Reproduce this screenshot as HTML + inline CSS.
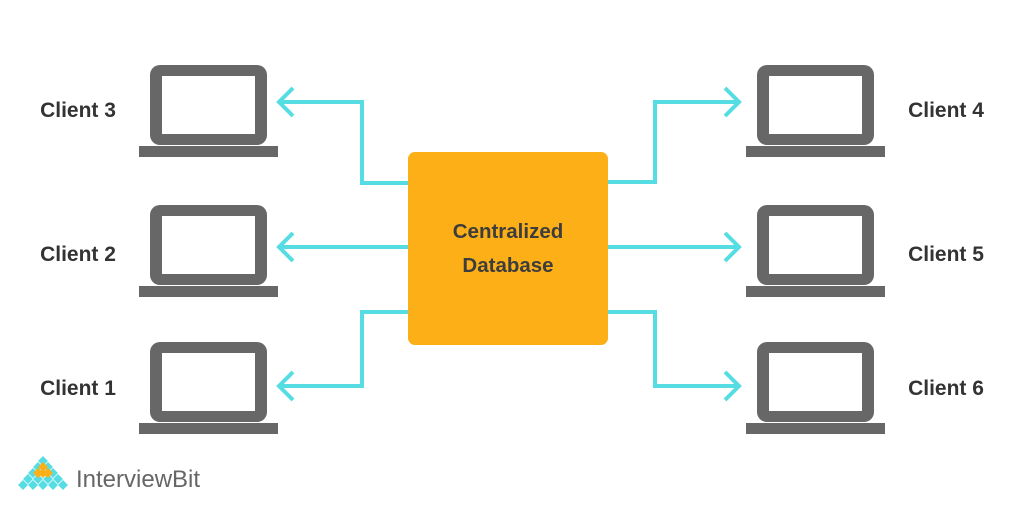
<!DOCTYPE html>
<html><head><style>
body{margin:0;width:1024px;height:500px;background:#fff;overflow:hidden;font-family:"Liberation Sans",sans-serif}
</style></head><body>
<svg width="1024" height="500" viewBox="0 0 1024 500" xmlns="http://www.w3.org/2000/svg">
<defs>
<g id="lap">
<rect x="11" y="0" width="117" height="80" rx="10" fill="#676767"/>
<rect x="23" y="11" width="93" height="58" fill="#fff"/>
<rect x="0" y="81" width="139" height="11" fill="#676767"/>
</g>
<rect id="d" x="-3.5" y="-3.5" width="7" height="7" transform="rotate(45)"/>
</defs>
<use href="#lap" x="139" y="65"/>
<use href="#lap" x="139" y="205"/>
<use href="#lap" x="139" y="342"/>
<use href="#lap" x="746" y="65"/>
<use href="#lap" x="746" y="205"/>
<use href="#lap" x="746" y="342"/>
<g fill="none" stroke="#56DDE4" stroke-width="4">
<polyline points="408,183 362,183 362,102 278,102"/>
<polyline points="293,88 279,102 293,116"/>
<polyline points="408,247 278,247"/>
<polyline points="293,233 279,247 293,261"/>
<polyline points="408,312 362,312 362,386 278,386"/>
<polyline points="293,372 279,386 293,400"/>
<polyline points="608,182 655,182 655,102 740,102"/>
<polyline points="725,88 739,102 725,116"/>
<polyline points="608,247 740,247"/>
<polyline points="725,233 739,247 725,261"/>
<polyline points="608,312 655,312 655,386 740,386"/>
<polyline points="725,372 739,386 725,400"/>
</g>
<rect x="408" y="152" width="200" height="193" rx="7" fill="#FDAF17"/>
<g font-family="Liberation Sans, sans-serif" font-weight="bold" fill="#333" font-size="21">
<text x="508" y="238" text-anchor="middle" fill="#3d3d3d" font-size="20.5">Centralized</text>
<text x="508" y="272" text-anchor="middle" fill="#3d3d3d" font-size="20.5">Database</text>
<text x="78" y="117" text-anchor="middle">Client 3</text>
<text x="78" y="261" text-anchor="middle">Client 2</text>
<text x="78" y="395" text-anchor="middle">Client 1</text>
<text x="946" y="117" text-anchor="middle">Client 4</text>
<text x="946" y="261" text-anchor="middle">Client 5</text>
<text x="946" y="395" text-anchor="middle">Client 6</text>
</g>
<g fill="#56DDE4">
<use href="#d" x="43" y="461"/>
<use href="#d" x="38" y="467"/><use href="#d" x="48" y="467"/>
<use href="#d" x="33" y="473"/><use href="#d" x="53" y="473"/>
<use href="#d" x="28" y="479"/><use href="#d" x="38" y="479"/><use href="#d" x="48" y="479"/><use href="#d" x="58" y="479"/>
<use href="#d" x="23" y="485"/><use href="#d" x="33" y="485"/><use href="#d" x="43" y="485"/><use href="#d" x="53" y="485"/><use href="#d" x="63" y="485"/>
</g>
<g fill="#FDAF17">
<use href="#d" x="43" y="473"/>
<use href="#d" x="38" y="473"/>
<use href="#d" x="48" y="473"/>
<use href="#d" x="43" y="467"/>
</g>
<text x="76" y="487" font-size="24" fill="#666" font-family="Liberation Sans, sans-serif">InterviewBit</text>
</svg>
</body></html>
